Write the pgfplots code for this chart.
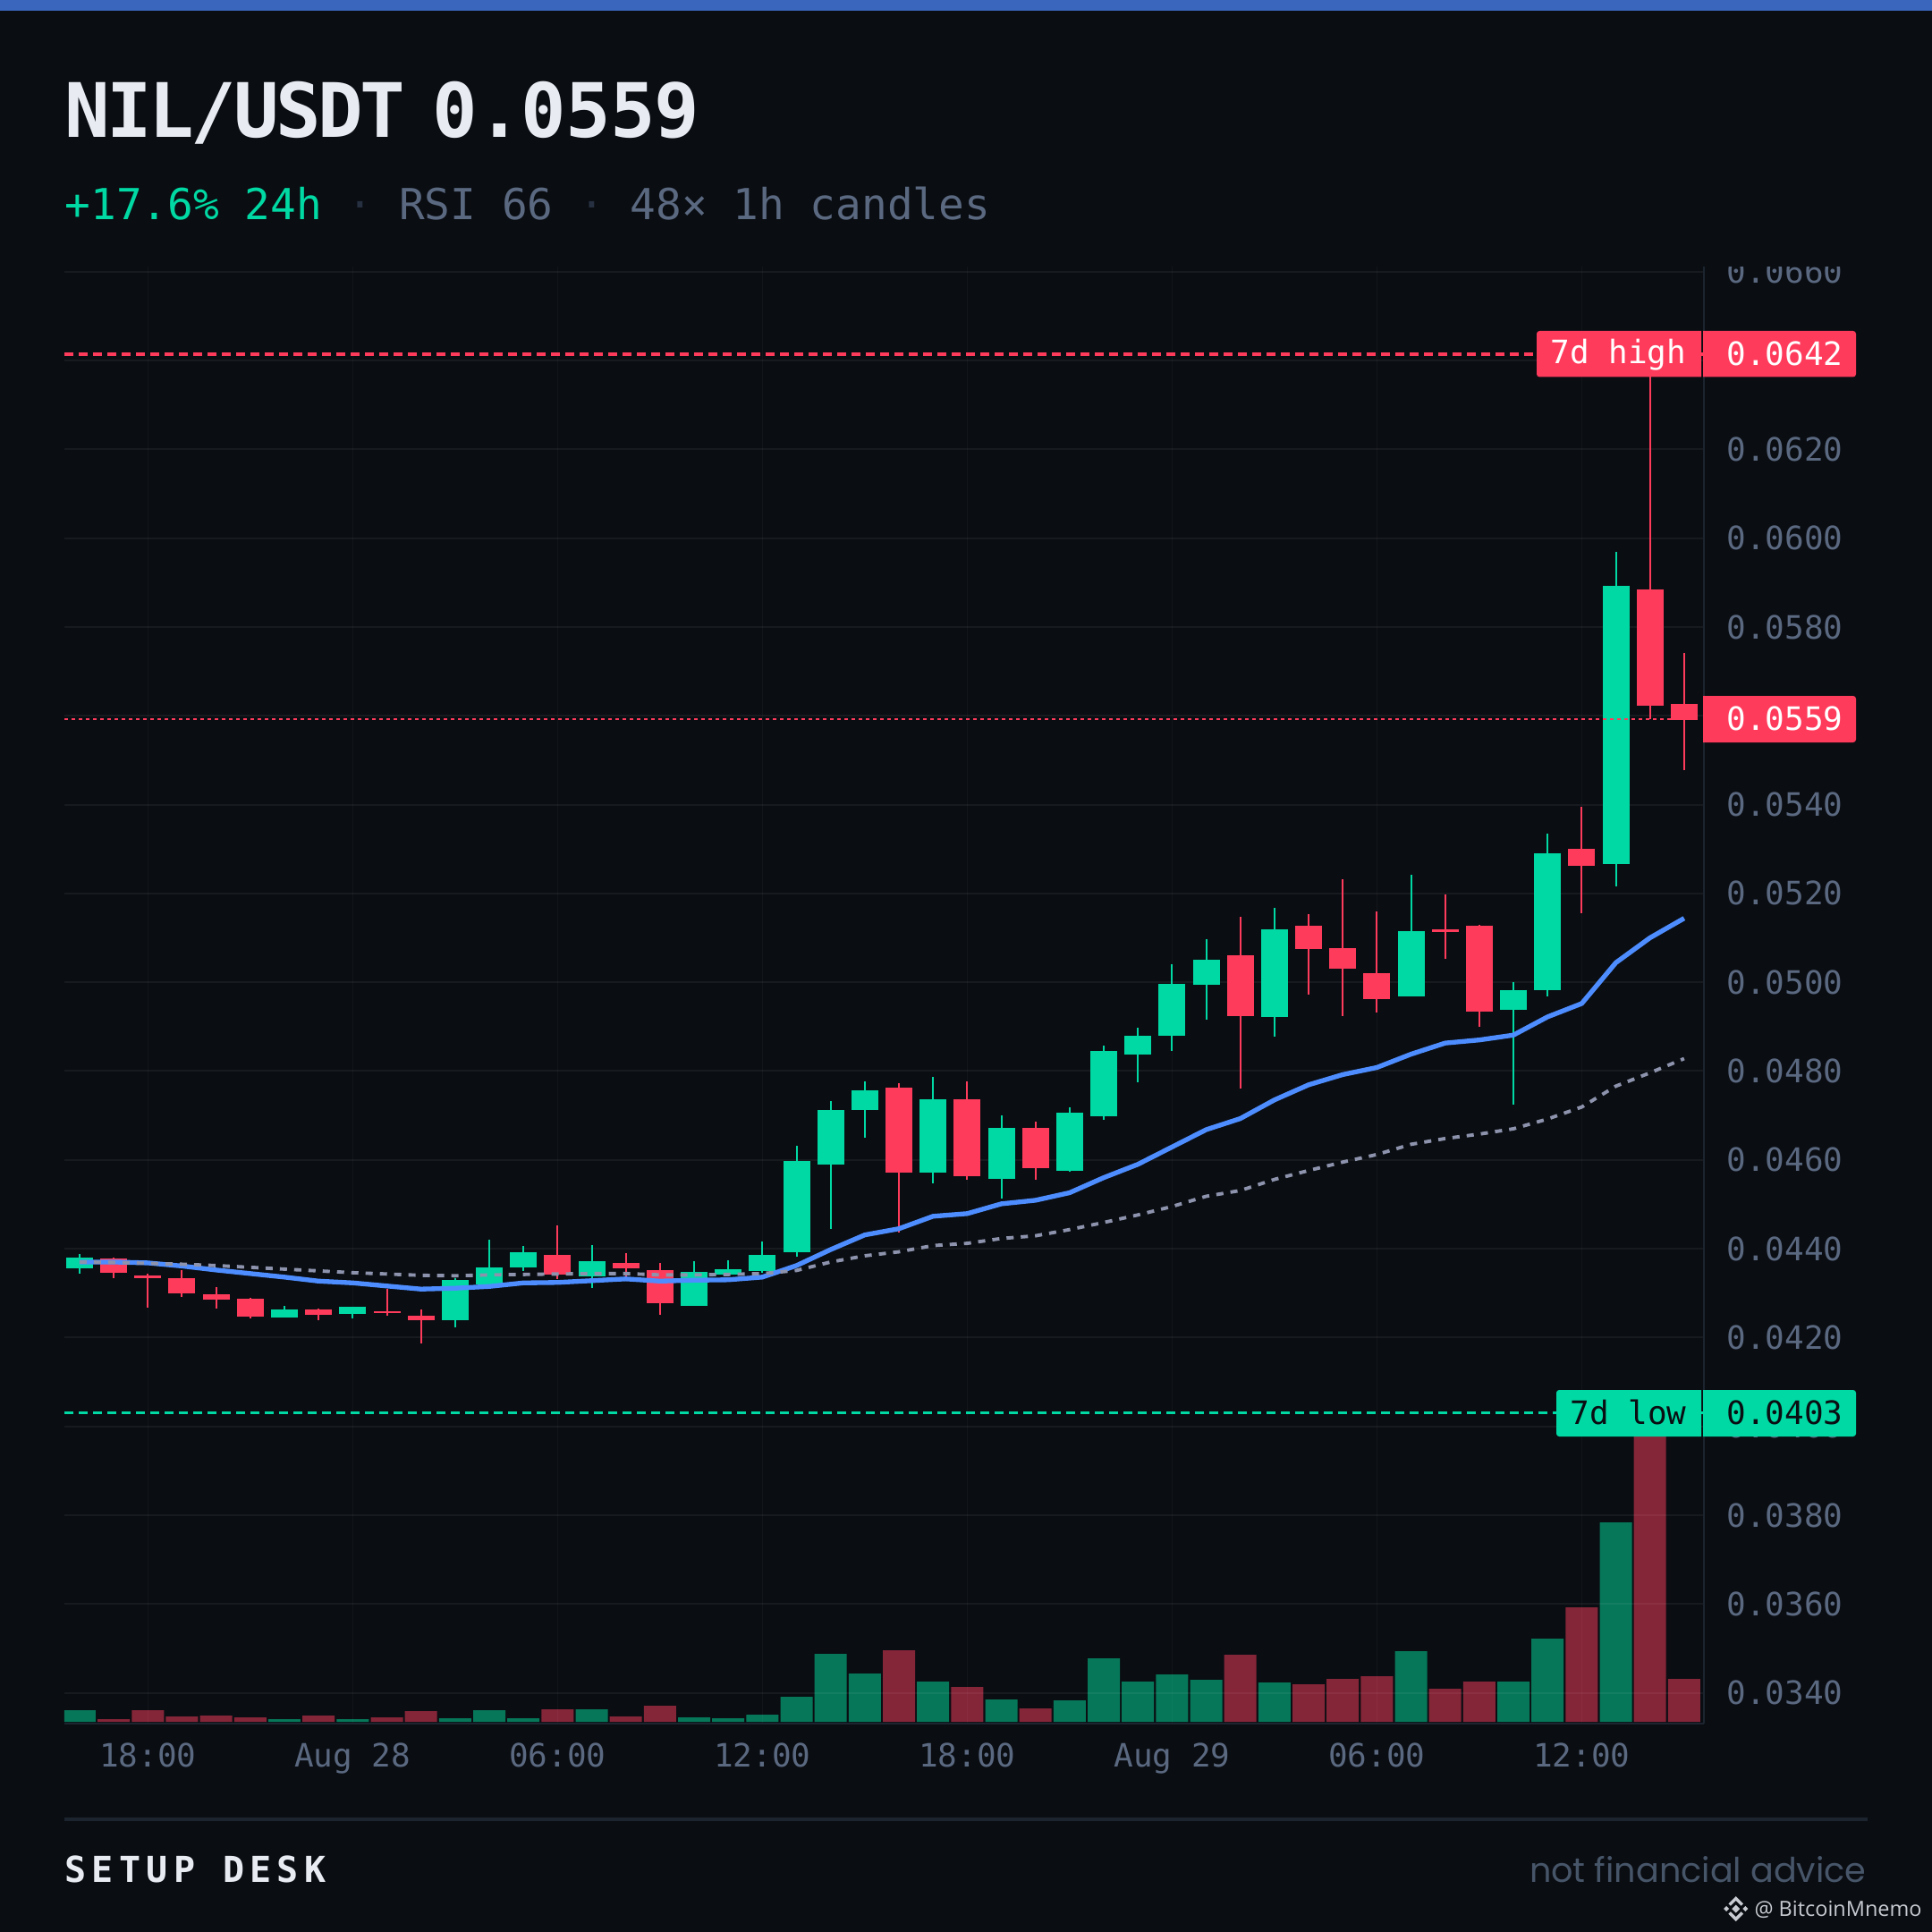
\documentclass[border=0pt]{standalone}
\usepackage{fontspec}
\usepackage{pgfplots}
\usepackage{pgfplotstable}
\pgfplotsset{compat=1.18}
\setmainfont{DejaVu Sans Mono}
\newfontfamily\titlefont[LetterSpace=-4.1]{DejaVu Sans Mono}
\newfontfamily\pricefont[LetterSpace=-1.1]{DejaVu Sans Mono}
\newfontfamily\deskfont[LetterSpace=16]{DejaVu Sans Mono}
\newfontfamily\noteFont{Poppins}
\newfontfamily\markfont{Open Sans}
\definecolor{bg}{HTML}{0A0D12}
\definecolor{topbar}{HTML}{3A66BD}
\definecolor{cUp}{HTML}{00D9A3}
\definecolor{cDn}{HTML}{FF3B5C}
\definecolor{vUp}{HTML}{067759}
\definecolor{vDn}{HTML}{852538}
\definecolor{muted}{HTML}{5A6880}
\definecolor{dotc}{HTML}{263040}
\definecolor{ink}{HTML}{E8EBF2}
\definecolor{axisc}{HTML}{1C2430}
\definecolor{ema}{HTML}{4D8DFF}
\definecolor{emb}{HTML}{8D93AC}
\definecolor{notec}{HTML}{475569}
\definecolor{markc}{HTML}{C8CCD2}

% x, high, body top, body bottom, low
\pgfplotstableread{
x h t b l
0 .04389 .04379 .04355 .04343
6 .04272 .04264 .04246 .04246
8 .04270 .04270 .04254 .04242
11 .04333 .04329 .04238 .04222
12 .04421 .04357 .04319 .04316
13 .04407 .04393 .04357 .04349
15 .04409 .04371 .04337 .04311
18 .04371 .04347 .04272 .04272
19 .04373 .04353 .04341 .04341
20 .04417 .04385 .04349 .04346
21 .04631 .04597 .04392 .04382
22 .04732 .04712 .04589 .04445
23 .04776 .04756 .04712 .04650
25 .04786 .04736 .04571 .04548
27 .04700 .04672 .04557 .04513
29 .04718 .04706 .04575 .04573
30 .04857 .04845 .04698 .04690
31 .04897 .04879 .04837 .04774
32 .05040 .04996 .04879 .04845
33 .05097 .05050 .04994 .04915
35 .05168 .05120 .04921 .04878
39 .05241 .05116 .04969 .04969
42 .05001 .04983 .04937 .04725
43 .05334 .05291 .04983 .04969
45 .05969 .05893 .05266 .05216
}\upT
\pgfplotstableread{
x h t b l
1 .04379 .04377 .04345 .04333
2 .04343 .04339 .04333 .04268
3 .04351 .04333 .04299 .04291
4 .04313 .04297 .04285 .04266
5 .04289 .04287 .04248 .04242
7 .04266 .04264 .04252 .04238
9 .04309 .04260 .04256 .04250
10 .04264 .04250 .04238 .04186
14 .04452 .04387 .04341 .04331
16 .04391 .04367 .04355 .04336
17 .04367 .04351 .04278 .04252
24 .04772 .04762 .04571 .04437
26 .04776 .04736 .04563 .04555
28 .04686 .04672 .04581 .04555
34 .05147 .05060 .04923 .04760
36 .05154 .05128 .05074 .04973
37 .05231 .05076 .05031 .04923
38 .05160 .05021 .04963 .04931
40 .05197 .05120 .05114 .05052
41 .05130 .05128 .04933 .04899
44 .05396 .05301 .05263 .05156
46 .06414 .05884 .05623 .05592
47 .05741 .05627 .05591 .05478
}\dnT
\pgfplotstableread{
x v
0 13
6 3
8 3
11 4
12 13
13 4
15 14
18 5
19 4
20 8
21 28
22 76
23 54
25 45
27 25
29 24
30 71
31 45
32 53
33 47
35 44
39 79
42 45
43 93
45 223
}\volUp
\pgfplotstableread{
x v
1 3
2 13
3 6
4 7
5 5
7 7
9 5
10 12
14 14
16 6
17 18
24 80
26 39
28 15
34 75
36 42
37 48
38 51
40 37
41 45
44 128
46 340
47 48
}\volDn
\pgfplotstableread{
x v
0 .04370
1 .04370
2 .04368
3 .04361
4 .04352
5 .04344
6 .04336
7 .04327
8 .04323
9 .04316
10 .04309
11 .04311
12 .04315
13 .04323
14 .04324
15 .04328
16 .04332
17 .04327
18 .04329
19 .04330
20 .04336
21 .04362
22 .04398
23 .04431
24 .04445
25 .04473
26 .04479
27 .04501
28 .04509
29 .04526
30 .04560
31 .04590
32 .04629
33 .04668
34 .04693
35 .04735
36 .04769
37 .04792
38 .04808
39 .04838
40 .04863
41 .04870
42 .04881
43 .04922
44 .04952
45 .05044
46 .05100
47 .05144
}\emaA
\pgfplotstableread{
x v
0 .04370
1 .04369
2 .04367
3 .04365
4 .04362
5 .04358
6 .04354
7 .04350
8 .04346
9 .04343
10 .04340
11 .04339
12 .04341
13 .04342
14 .04343
15 .04344
16 .04344
17 .04341
18 .04341
19 .04342
20 .04344
21 .04351
22 .04370
23 .04384
24 .04393
25 .04407
26 .04412
27 .04423
28 .04429
29 .04443
30 .04459
31 .04476
32 .04495
33 .04518
34 .04531
35 .04556
36 .04576
37 .04595
38 .04612
39 .04635
40 .04648
41 .04658
42 .04670
43 .04692
44 .04719
45 .04766
46 .04796
47 .04828
}\emaB

\begin{document}
\begin{tikzpicture}
\useasboundingbox (0,0) rectangle (810pt,-810pt);
\fill[bg] (0,0) rectangle (810pt,-810pt);
\fill[topbar] (0,0) rectangle (810pt,-4.5pt);

% volume
\begin{axis}[
  at={(27pt,-722.625pt)}, anchor=south west,
  scale only axis, width=687.375pt, height=610.875pt,
  xmin=-0.445, xmax=47.58, ymin=-2, ymax=1627,
  hide axis,
  ybar, bar shift=0pt, bar width=13.5pt,
]
\addplot[fill=vUp, draw=none, forget plot] table[x=x,y=v] {\volUp};
\addplot[fill=vDn, draw=none, forget plot] table[x=x,y=v] {\volDn};
\end{axis}

% price
\begin{axis}[
  at={(27pt,-722.625pt)}, anchor=south west,
  scale only axis, width=687.375pt, height=610.875pt,
  xmin=-0.445, xmax=47.58, ymin=.033306, ymax=.066115,
  axis x line=bottom, axis y line=right,
  axis line style={-, draw=axisc, line width=0.9pt},
  xtick={2,8,14,20,26,32,38,44},
  xticklabels={18:00,Aug 28,06:00,12:00,18:00,Aug 29,06:00,12:00},
  ytick={.034,.036,.038,.040,.042,.044,.046,.048,.050,.052,.054,.056,.058,.060,.062,.064,.066},
  scaled y ticks=false,
  major tick length=0pt,
  tick style={draw=none},
  x grid style={draw=white, opacity=0.035, line width=0.6pt},
  y grid style={draw=white, opacity=0.055, line width=0.75pt},
  xmajorgrids, ymajorgrids,
  /pgf/number format/fixed,
  /pgf/number format/fixed zerofill,
  /pgf/number format/precision=4,
  /pgf/number format/assume math mode=true,
  yticklabel style={anchor=west, inner sep=0pt, xshift=9.4pt, text=muted, font=\fontsize{13.5}{16}\selectfont},
  xticklabel style={anchor=base, yshift=-18pt, text=muted, font=\fontsize{13.5}{16}\selectfont},
]
% 7d extremes
\addplot[cDn, line width=1.3pt, dash pattern=on 3.75pt off 2.25pt, forget plot] coordinates {(-0.445,.06414)(47.58,.06414)};
\addplot[cUp, line width=1.3pt, dash pattern=on 3.75pt off 2.25pt, forget plot] coordinates {(-0.445,.04030)(47.58,.04030)};
% wicks and bodies
\addplot[draw=none, mark=none, forget plot, error bars/.cd, y dir=both, y explicit, error mark=none, error bar style={draw=cUp, line width=0.75pt}]
  table[x=x, y=t, y error plus expr=\thisrow{h}-\thisrow{t}, y error minus expr=\thisrow{t}-\thisrow{l}] {\upT};
\addplot[draw=none, mark=none, forget plot, error bars/.cd, y dir=minus, y explicit, error mark=none, error bar style={draw=cUp, line width=11.25pt}]
  table[x=x, y=t, y error minus expr=\thisrow{t}-\thisrow{b}] {\upT};
\addplot[draw=none, mark=none, forget plot, error bars/.cd, y dir=both, y explicit, error mark=none, error bar style={draw=cDn, line width=0.75pt}]
  table[x=x, y=t, y error plus expr=\thisrow{h}-\thisrow{t}, y error minus expr=\thisrow{t}-\thisrow{l}] {\dnT};
\addplot[draw=none, mark=none, forget plot, error bars/.cd, y dir=minus, y explicit, error mark=none, error bar style={draw=cDn, line width=11.25pt}]
  table[x=x, y=t, y error minus expr=\thisrow{t}-\thisrow{b}] {\dnT};
% moving averages
\addplot[ema, line width=2pt, line join=round, forget plot] table[x=x,y=v] {\emaA};
\addplot[emb, line width=1.45pt, dash pattern=on 3pt off 3pt, forget plot] table[x=x,y=v] {\emaB};
% last price
\addplot[cDn, line width=0.55pt, dash pattern=on 1.5pt off 1.5pt, forget plot] coordinates {(-0.445,.05592)(47.4,.05592)};
\end{axis}

\begin{scope}[x=0.375pt,y=-0.375pt]
% clip of the top tick label
\fill[bg] (1907,13) rectangle (2160,298);
% header
\node[anchor=base west, inner sep=0pt, text=ink] at (72,154) {\titlefont\bfseries\fontsize{31.5}{36}\selectfont NIL/USDT};
\node[anchor=base west, inner sep=0pt, text=ink] at (483,154) {\pricefont\bfseries\fontsize{31.5}{36}\selectfont 0.0559};
\node[anchor=base west, inner sep=0pt] at (72,246) {\fontsize{17.9}{22}\selectfont\textcolor{cUp}{+17.6\% 24h} \textcolor{dotc}{·} \textcolor{muted}{RSI 66} \textcolor{dotc}{·} \textcolor{muted}{48× 1h candles}};
% boxes
\path[fill=cDn] (1902,370) [rounded corners=1.2pt] -- (1718,370) -- (1718,421.5) [sharp corners] -- (1902,421.5) -- cycle;
\path[fill=cDn] (1904,370) [rounded corners=1.2pt] -- (2075,370) -- (2075,421.5) [sharp corners] -- (1904,421.5) -- cycle;
\path[fill=cDn] (1904,778) [rounded corners=1.2pt] -- (2075,778) -- (2075,830) [sharp corners] -- (1904,830) -- cycle;
\path[fill=cUp] (1902,1554) [rounded corners=1.2pt] -- (1740,1554) -- (1740,1606) [sharp corners] -- (1902,1606) -- cycle;
\path[fill=cUp] (1904,1554) [rounded corners=1.2pt] -- (2075,1554) -- (2075,1606) [sharp corners] -- (1904,1606) -- cycle;
\node[anchor=base west, inner sep=0pt, text=white, font=\fontsize{13.5}{16}\selectfont] at (1733,407) {7d high};
\node[anchor=base west, inner sep=0pt, text=white, font=\fontsize{13.5}{16}\selectfont] at (1930,408.5) {0.0642};
\node[anchor=base west, inner sep=0pt, text=white, font=\fontsize{13.5}{16}\selectfont] at (1930,816.6) {0.0559};
\node[anchor=base west, inner sep=0pt, text=bg, font=\fontsize{13.5}{16}\selectfont] at (1755,1592.6) {7d low};
\node[anchor=base west, inner sep=0pt, text=bg, font=\fontsize{13.5}{16}\selectfont] at (1930,1592.6) {0.0403};
% footer
\fill[axisc] (72,2032) rectangle (2088,2036);
\node[anchor=base west, inner sep=0pt, text=ink] at (72,2104) {\deskfont\bfseries\fontsize{15}{18}\selectfont SETUP DESK};
\node[anchor=base east, inner sep=0pt, text=notec] at (2087,2104) {\noteFont\fontsize{14.3}{18}\selectfont not financial advice};
% watermark
\node[anchor=base west, inner sep=0pt, text=markc] at (1961,2142) {\markfont\fontsize{8.8}{11}\selectfont @ BitcoinMnemo};
\fill[markc] (1940.7,2129.5) -- (1945.2,2134) -- (1940.7,2138.5) -- (1936.2,2134) -- cycle;
\fill[markc] (1930,2131) -- (1933,2134) -- (1930,2137) -- (1927,2134) -- cycle;
\fill[markc] (1951.4,2131) -- (1954.4,2134) -- (1951.4,2137) -- (1948.4,2134) -- cycle;
\fill[markc] (1940.7,2120) -- (1949,2128.3) -- (1946.6,2130.7) -- (1940.7,2124.8) -- (1934.8,2130.7) -- (1932.4,2128.3) -- cycle;
\fill[markc] (1940.7,2148) -- (1949,2139.7) -- (1946.6,2137.3) -- (1940.7,2143.2) -- (1934.8,2137.3) -- (1932.4,2139.7) -- cycle;
\end{scope}
\end{tikzpicture}
\end{document}
